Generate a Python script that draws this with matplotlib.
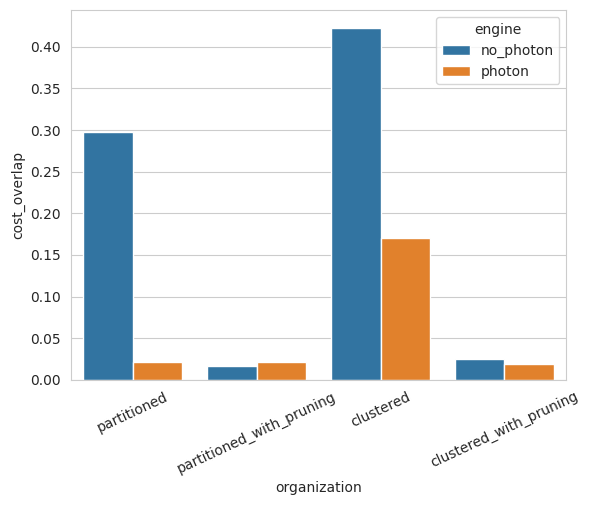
import matplotlib
matplotlib.use("Agg")
import matplotlib.pyplot as plt
import pandas as pd
import seaborn as sns

organizations = ["partitioned", "partitioned_with_pruning", "clustered", "clustered_with_pruning"]
no_photon = [0.2976, 0.0163, 0.423, 0.0252]
photon = [0.0212, 0.0212, 0.1708, 0.0188]

df = pd.DataFrame({
    "organization": organizations * 2,
    "engine": ["no_photon"] * 4 + ["photon"] * 4,
    "cost_overlap": no_photon + photon,
})

sns.set_style("whitegrid")
fig, ax = plt.subplots(figsize=(5.9, 5.05), dpi=100)
sns.barplot(data=df, x="organization", y="cost_overlap", hue="engine", ax=ax)
ax.tick_params(axis="x", rotation=25)
fig.subplots_adjust(left=0.12, right=0.96, top=0.98, bottom=0.248)
fig.savefig("out.png")
